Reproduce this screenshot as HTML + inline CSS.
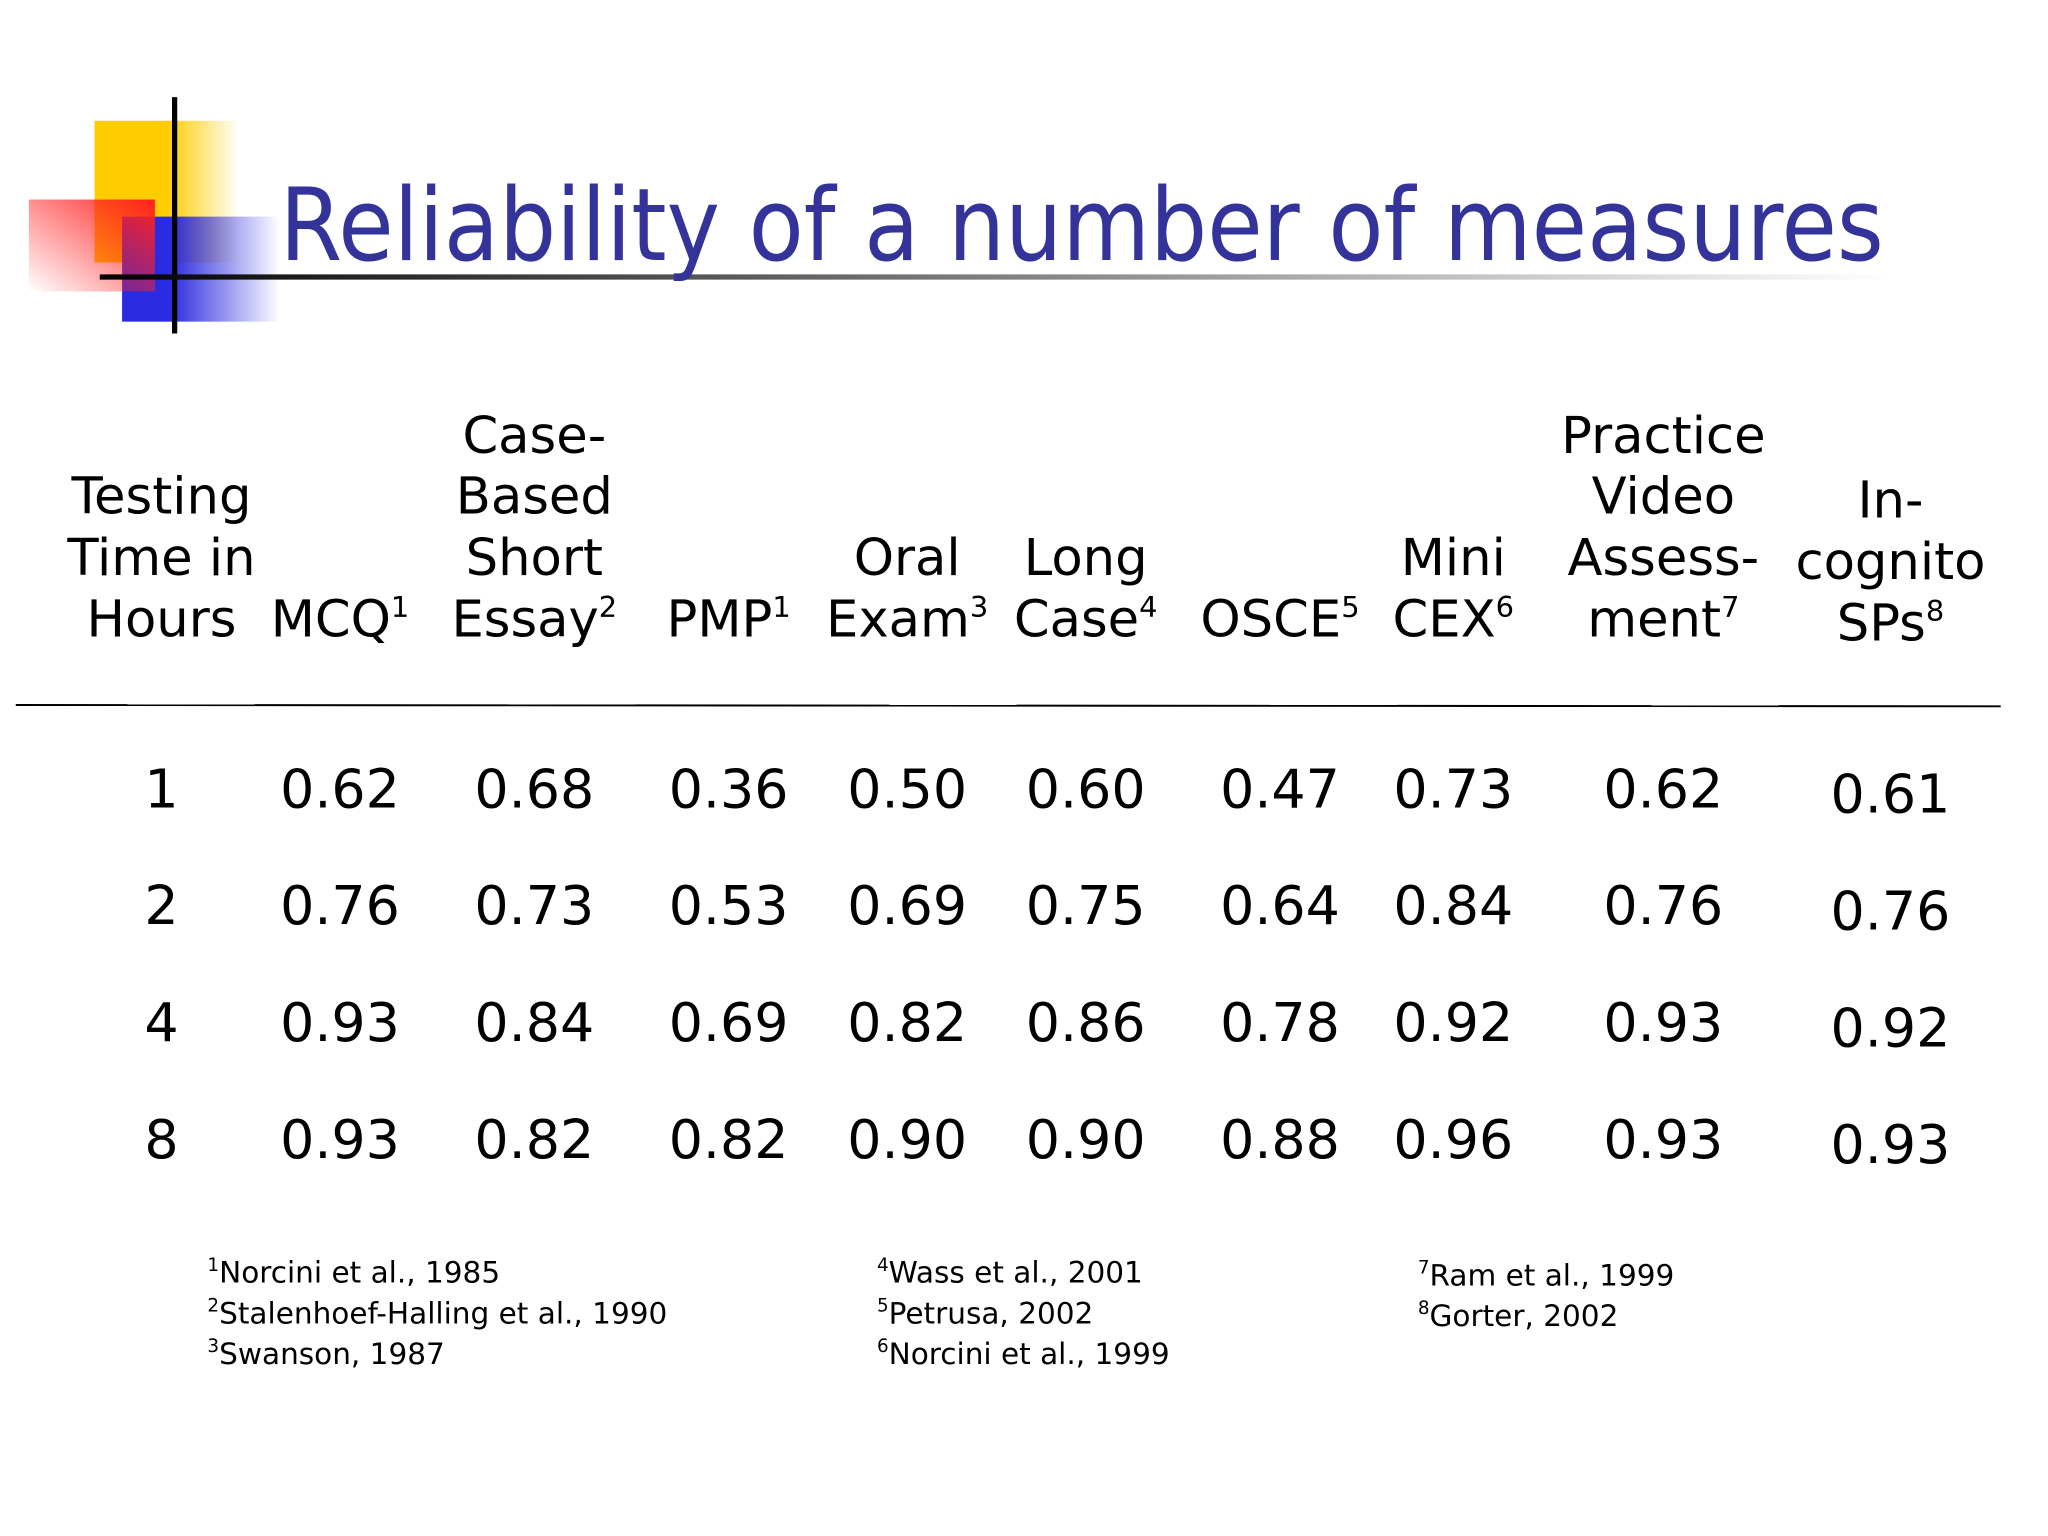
<!DOCTYPE html>
<html><head><meta charset="utf-8"><style>
html,body{margin:0;padding:0;background:#fff;}
svg{display:block;font-family:"DejaVu Sans","Liberation Sans",sans-serif;}
</style></head><body>
<svg id="s" width="2048" height="1536" viewBox="0 0 1560 1170" preserveAspectRatio="none" xmlns="http://www.w3.org/2000/svg">
<defs>
<linearGradient id="gy" x1="0" x2="1"><stop offset="0.5" stop-color="#ffcc00"/><stop offset="1" stop-color="#ffcc00" stop-opacity="0"/></linearGradient>
<linearGradient id="gr" x1="1" x2="0" y1="0" y2="1"><stop offset="0" stop-color="#ff2020"/><stop offset="1" stop-color="#ff2020" stop-opacity="0"/></linearGradient>
<linearGradient id="gb" x1="0" x2="1"><stop offset="0.3" stop-color="#2a2ae0"/><stop offset="1" stop-color="#2a2ae0" stop-opacity="0"/></linearGradient>
<linearGradient id="gl" x1="0" x2="1"><stop offset="0" stop-color="#000"/><stop offset="0.4" stop-color="#666"/><stop offset="1" stop-color="#fff"/></linearGradient>
</defs>
<g>
<rect x="72" y="92" width="110" height="108" fill="url(#gy)"/>
<rect x="93" y="165" width="120" height="80" fill="url(#gb)"/>
<rect x="22" y="152" width="96" height="70" fill="url(#gr)"/>
<rect x="131" y="74" width="4" height="180" fill="#000"/>
</g>
<rect x="76" y="209" width="1364" height="4" fill="url(#gl)"/>
<text x="213" y="198" font-size="77" fill="#333399" textLength="1222" lengthAdjust="spacingAndGlyphs">Reliability of a number of measures</text>
<line x1="12" y1="537" x2="1524" y2="538" stroke="#000" stroke-width="1.5"/>
<g id="hdr"></g>
<g id="cells"></g>
<g id="fn"></g>
</svg>
<script>
const hours = ["1","2","4","8"];
const mcq = ["0.62","0.76","0.93","0.93"];
const cbse = ["0.68","0.73","0.84","0.82"];
const pmp = ["0.36","0.53","0.69","0.82"];
const oral = ["0.50","0.69","0.82","0.90"];
const longCase = ["0.60","0.75","0.86","0.90"];
const osce = ["0.47","0.64","0.78","0.88"];
const miniCex = ["0.73","0.84","0.92","0.96"];
const video = ["0.62","0.76","0.93","0.93"];
const incog = ["0.61","0.76","0.92","0.93"];
const columns = [hours, mcq, cbse, pmp, oral, longCase, osce, miniCex, video, incog];
const headers = [
 [["Testing"],["Time in"],["Hours"]],
 [["MCQ","1"]],
 [["Case-"],["Based"],["Short"],["Essay","2"]],
 [["PMP","1"]],
 [["Oral"],["Exam","3"]],
 [["Long"],["Case","4"]],
 [["OSCE","5"]],
 [["Mini"],["CEX","6"]],
 [["Practice"],["Video"],["Assess-"],["ment","7"]],
 [["In-"],["cognito"],["SPs","8"]]
];
const footnotes = [
 [["1","Norcini et al., 1985"],["2","Stalenhoef-Halling et al., 1990"],["3","Swanson, 1987"]],
 [["4","Wass et al., 2001"],["5","Petrusa, 2002"],["6","Norcini et al., 1999"]],
 [["7","Ram et al., 1999"],["8","Gorter, 2002"]]
];
const NS="http://www.w3.org/2000/svg";
const colX=[123,259,407,555,691,827,975,1107,1267,1440];
const rowY=[615,704,793,882];
const hdrBase=[345,391,438,485];
function mk(tag,attrs,parent){const e=document.createElementNS(NS,tag);for(const k in attrs)e.setAttribute(k,attrs[k]);parent.appendChild(e);return e;}
const hdr=document.getElementById('hdr');
headers.forEach((lines,ci)=>{
  const n=lines.length;
  lines.forEach((ln,li)=>{
    const y=hdrBase[4-n+li]+(ci===9?3:0);
    const t=mk('text',{x:colX[ci],y:y,'font-size':39,'text-anchor':'middle',fill:'#000'},hdr);
    
    
    t.appendChild(document.createTextNode(ln[0]));
    if(ln[1]){const s=mk('tspan',{'font-size':22,dy:-15},t);s.textContent=ln[1];}
  });
});
const cells=document.getElementById('cells');
columns.forEach((col,ci)=>{
  col.forEach((v,ri)=>{
    const t=mk('text',{x:colX[ci],y:rowY[ri]+(ci===9?4:0),'font-size':41,'text-anchor':'middle',fill:'#000'},cells);
    
    
    t.textContent=v;
  });
});
const fn=document.getElementById('fn');
const fnX=[158,668,1080];
footnotes.forEach((grp,gi)=>{
  grp.forEach((f,fi)=>{
    const y=977+fi*31+(gi===2?2:0);
    const t=mk('text',{x:fnX[gi],y:y,'font-size':22.5,fill:'#000'},fn);
    
    
    const s=mk('tspan',{'font-size':14,dy:-9},t);s.textContent=f[0];
    const s2=mk('tspan',{dy:9},t);s2.textContent=f[1];
  });
});
</script>
</body></html>
